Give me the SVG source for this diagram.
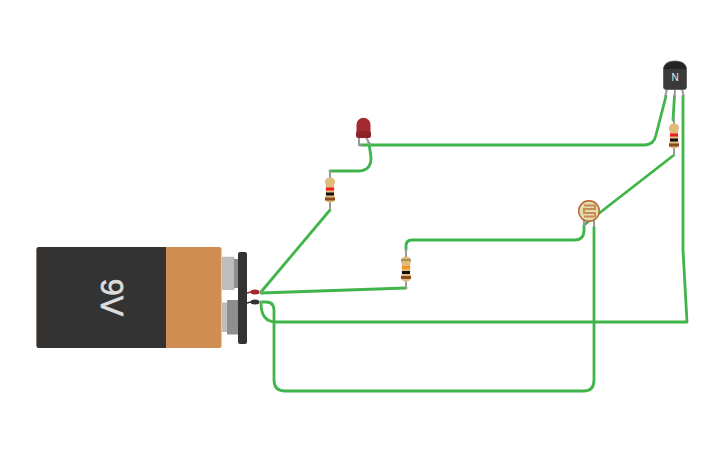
<svg xmlns="http://www.w3.org/2000/svg" width="725" height="453" viewBox="0 0 725 453">
<style>
.wire{fill:none;stroke:#40b54a;stroke-width:2.8;stroke-linecap:round;stroke-linejoin:round}
.lead{fill:none;stroke:#9a9a9a;stroke-width:2}
.rb{fill:#e0bc7c}
.lab{font-family:"Liberation Sans",Arial,sans-serif}
</style>
<defs>
<g id="res">
<path class="lead" d="M0 -20V-11M0 11V20"/>
<path class="rb" d="M-3.500 -11.500C-1.800 -13 1.800 -13 3.500 -11.500C5.300 -10 5.500 -7 4.200 -5.500V5.500C5.500 7 5.300 10 3.500 11.500C1.800 13 -1.800 13 -3.500 11.500C-5.300 10 -5.500 7 -4.200 5.500V-5.500C-5.500 -7 -5.300 -10 -3.500 -11.500Z"/>
</g>
</defs>
<g id="battery">
<rect x="222" y="256.700" width="12.500" height="33.300" rx="1" fill="#bdbdbd"/>
<rect x="234" y="259" width="5" height="29" fill="#8e8e8e"/>
<rect x="222" y="302.500" width="6" height="29.500" fill="#bdbdbd"/>
<rect x="227" y="300" width="12" height="34.500" rx="1" fill="#8e8e8e"/>
<rect x="36.500" y="247" width="185" height="101" rx="2.500" fill="#d18e52"/>
<path d="M39 247H166V348H39A2.500 2.500 0 0 1 36.500 345.500V249.500A2.500 2.500 0 0 1 39 247Z" fill="#333333"/>
<text class="lab" transform="translate(100.500 297.500) rotate(90)" text-anchor="middle" font-size="30.500" fill="#dddddd" stroke="#dddddd" stroke-width="0.700">9V</text>
<rect x="238" y="252" width="9" height="92" rx="2" fill="#333333"/>
</g>
<g id="connectors">
<path class="wire" d="M261 292L330 210"/>
<path class="wire" d="M330 171H358Q371 171 371 158L369 143"/>
<path class="wire" d="M360 145H644Q654 145 656 135L666 96"/>
<path class="wire" d="M261 293L406 288"/>
<path class="wire" d="M406 250V246Q406 240 412 240H575Q584 240 584 230V226"/>
<path class="wire" d="M584 225L674 155"/>
<path class="wire" d="M261 303Q261 322 276 322H687L683 250V96"/>
<path class="wire" d="M261 302H266Q274 302 274 310V380Q274 391 285 391H584Q594 391 594 380V227"/>
<path class="wire" d="M674.500 96L673 120"/>
</g>
<g id="red-lead"><path d="M247 293L251 292" stroke="#a8262b" stroke-width="1.500"/><ellipse cx="255" cy="292" rx="4.500" ry="2.500" fill="#a8262b"/><path d="M259 292H262" stroke="#9a9a9a" stroke-width="1.500"/></g>
<g id="black-lead"><path d="M247 303L251 302" stroke="#333" stroke-width="1.500"/><ellipse cx="255" cy="302" rx="4.500" ry="2.500" fill="#333"/><path d="M259 302H262" stroke="#9a9a9a" stroke-width="1.500"/></g>
<g id="led">
<path class="lead" d="M359 137V145H361M366 137L370 145"/>
<path d="M356.500 133V124.700A7 7 0 0 1 370.500 124.700V133Z" fill="#a32a2e"/>
<rect x="356" y="131" width="15" height="7" rx="2.500" fill="#8d2327"/>
</g>
<g id="r1">
<use href="#res" x="330" y="190"/>
<rect x="326" y="187.500" width="8" height="3" fill="#ee1c24"/>
<rect x="326" y="192.500" width="8" height="3" fill="#111"/>
<rect x="325" y="197.500" width="10" height="3" fill="#8a4b1c"/>
</g>
<g id="r2">
<use href="#res" x="406" y="269"/>
<rect x="401" y="259.500" width="10" height="1" fill="#6f6a2c"/>
<rect x="402" y="266" width="8" height="3" fill="#f7941e"/>
<rect x="402" y="271" width="8" height="3" fill="#111"/>
<rect x="401" y="276" width="10" height="3" fill="#8a4b1c"/>
</g>
<g id="r3">
<use href="#res" x="674" y="136"/>
<rect x="670" y="133.500" width="8" height="3" fill="#ee1c24"/>
<rect x="670" y="138.500" width="8" height="3" fill="#111"/>
<rect x="669" y="143.500" width="10" height="3" fill="#8a4b1c"/>
</g>
<g id="ldr">
<path class="lead" d="M584 218V226M594 218V227"/>
<circle cx="589" cy="211" r="10.300" fill="#e3dcae" stroke="#b8622f" stroke-width="1.400"/>
<path d="M584 205.500H595V209H584V213H595V216.500H584" fill="none" stroke="#c78b55" stroke-width="2"/>
</g>
<g id="transistor">
<path class="lead" d="M667 89L665 97M675 89L674.500 97M682 89L684 97" stroke-width="2.200"/>
<path d="M663.500 72V68Q665 61 675 61Q685 61 686.500 68V87Q686.500 89.500 684 89.500H666Q663.500 89.500 663.500 87Z" fill="#3a3a3a" stroke="#555555" stroke-width="0.800"/>
<path d="M664 69Q665 61.500 675 61.500Q685 61.500 686 69Z" fill="#242424"/>
<text class="lab" x="675" y="80.500" text-anchor="middle" font-size="10" fill="#eeeeee">N</text>
</g>
</svg>
